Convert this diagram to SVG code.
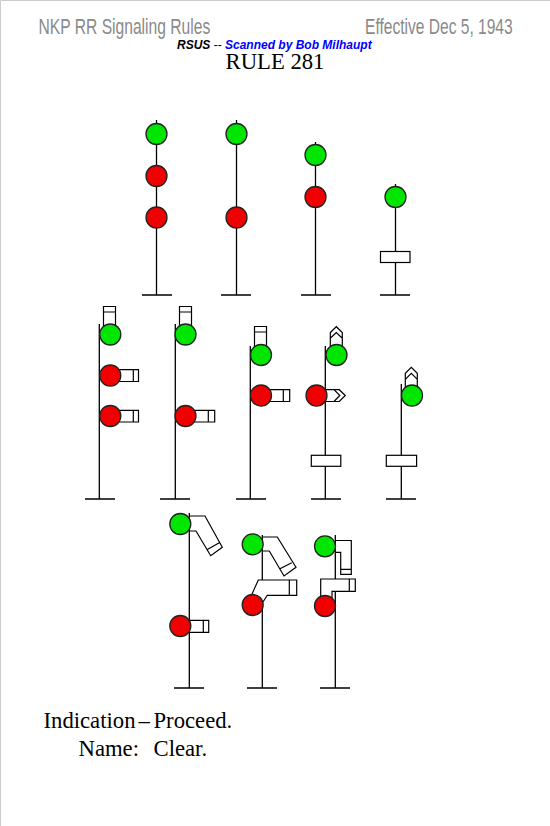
<svg xmlns="http://www.w3.org/2000/svg" width="550" height="826" viewBox="0 0 550 826">
<style>
.m{stroke:#000;stroke-width:1.3;fill:none}
.a{stroke:#000;stroke-width:1.2;fill:#fff;stroke-linejoin:miter}
.g{fill:#00e600;stroke:#222;stroke-width:1.3}
.r{fill:#f00000;stroke:#222;stroke-width:1.3}
.h{font-family:"Liberation Sans",Arial,sans-serif;font-size:22px;fill:#8a8a8a}
.t{font-family:"Liberation Serif","Times New Roman",serif;font-size:22.7px;fill:#000}
.s{font-family:"Liberation Sans",Arial,sans-serif;font-size:12px;font-weight:bold;font-style:italic}
</style>
<rect width="550" height="826" fill="#fff"/>
<path d="M0.5 826V0.5H550" fill="none" stroke="#ccc"/>
<g id="header">
<text class="h" transform="translate(38.5 33.5) scale(.711 1)">NKP RR Signaling Rules</text>
<text class="h" transform="translate(365 33.5) scale(.708 1)">Effective Dec 5, 1943</text>
<text class="s" x="177" y="49"><tspan fill="#000">RSUS</tspan><tspan fill="#000" font-weight="normal" font-style="normal"> -- </tspan><tspan fill="#0000ff">Scanned by Bob Milhaupt</tspan></text>
<text class="t" x="225.5" y="69">RULE 281</text>
</g>
<g id="connectors">
<path class="m" d="M156.5 120V295M142 295H172M236.5 120V295M221 295H251M315.5 142V295M301 295H331M395.5 184V295M380 295H410"/>
<path class="m" d="M99.3 324V499M85 499H115M175.3 324V499M160 499H190M250.3 346V499M236 499H266M325.3 346V499M311 499H341M401.3 384V499M386 499H416"/>
<path class="m" d="M189.3 513V688M174 688H204M262.3 535V688M247 688H277M335.3 535V688M320 688H350"/>
</g>
<g id="signal-1"><circle class="g" cx="156.5" cy="134" r="10.5"/><circle class="r" cx="156.5" cy="176" r="10.5"/><circle class="r" cx="156.5" cy="217.5" r="10.5"/></g>
<g id="signal-2"><circle class="g" cx="236.5" cy="134" r="10.5"/><circle class="r" cx="236.5" cy="217.5" r="10.5"/></g>
<g id="signal-3"><circle class="g" cx="315.5" cy="155" r="10.5"/><circle class="r" cx="315.5" cy="197" r="10.5"/></g>
<g id="signal-4"><circle class="g" cx="395.5" cy="197" r="10.5"/><rect class="a" x="380.5" y="251.5" width="29.5" height="11"/></g>
<g id="signal-5">
<path class="a" d="M103.5 329V306.5H115.5V329M103.5 312H115.5"/>
<path class="a" d="M118 369.7H138.5V381.5H118M133.3 369.7V381.5"/>
<path class="a" d="M118 410.3H138.5V422H118M133.3 410.3V422"/>
<circle class="g" cx="110.3" cy="334.5" r="10.5"/><circle class="r" cx="110.3" cy="375.5" r="10.5"/><circle class="r" cx="110.3" cy="416" r="10.5"/>
</g>
<g id="signal-6">
<path class="a" d="M179.5 329V306.5H191.5V329M179.5 312H191.5"/>
<path class="a" d="M193 410.3H214.7V422H193M208.3 410.3V422"/>
<circle class="g" cx="185.5" cy="334.5" r="10.5"/><circle class="r" cx="185.5" cy="416" r="10.5"/>
</g>
<g id="signal-7">
<path class="a" d="M254.5 350V326.5H266.5V350M254.5 332H266.5"/>
<path class="a" d="M268 389.7H289.7V401.5H268M283.3 389.7V401.5"/>
<circle class="g" cx="261" cy="355" r="10.5"/><circle class="r" cx="261" cy="395.5" r="10.5"/>
</g>
<g id="signal-8">
<path class="a" d="M330.3 346V332.5L336.3 326.7L342.3 332.5V346M330.3 338.3L336.3 332.5L342.3 338.3"/>
<path class="a" d="M323 389.7H339.3L345.3 395.5L339.3 401.5H323M334 389.7L339.8 395.5L334 401.5"/>
<circle class="g" cx="336.5" cy="355" r="10.5"/><circle class="r" cx="316.5" cy="395.5" r="10.5"/>
<rect class="a" x="311.3" y="455.3" width="29.5" height="11"/>
</g>
<g id="signal-9">
<path class="a" d="M405.3 388V373.3L411.3 367.3L417.3 373.3V388M405.3 379.3L411.3 373.3L417.3 379.3"/>
<circle class="g" cx="412" cy="395.5" r="10.5"/>
<rect class="a" x="386.3" y="455.3" width="30.3" height="11"/>
</g>
<g id="signal-10">
<path class="a" d="M190 516H205L222.3 547.3L210.7 555.7L196 531H190M207.3 549.5L219.3 542.7"/>
<path class="a" d="M186 620.3H208.7V632.3H186M203.3 620.3V632.3"/>
<circle class="g" cx="180.3" cy="524" r="10.5"/><circle class="r" cx="180.3" cy="626" r="10.5"/>
</g>
<g id="signal-11">
<path class="a" d="M263 537H277.3L296 567.3L284 576L269.3 551H263M280 568.7L291.7 562.7"/>
<path class="a" d="M250.7 597L258.3 580H296.7V595.3H267.3L263 602M289.3 580V595.3"/>
<circle class="g" cx="252.7" cy="544.3" r="10.5"/><circle class="r" cx="252.7" cy="605" r="10.5"/>
</g>
<g id="signal-12">
<path class="a" d="M336 540.5H351.3V574.3H340.7V552.3H336M340.7 569.3H351.3"/>
<path class="a" d="M320.7 598V579H355.3V591.3H332V601M349.3 579V591.3"/>
<circle class="g" cx="325" cy="546.3" r="10.5"/><circle class="r" cx="325" cy="606" r="10.5"/>
</g>
<g id="caption">
<text class="t" x="43.5" y="728">Indication</text>
<text class="t" x="138.5" y="728">–</text>
<text class="t" x="153.5" y="728">Proceed.</text>
<text class="t" x="78.5" y="756">Name:</text>
<text class="t" x="153.5" y="756">Clear.</text>
</g>
</svg>
